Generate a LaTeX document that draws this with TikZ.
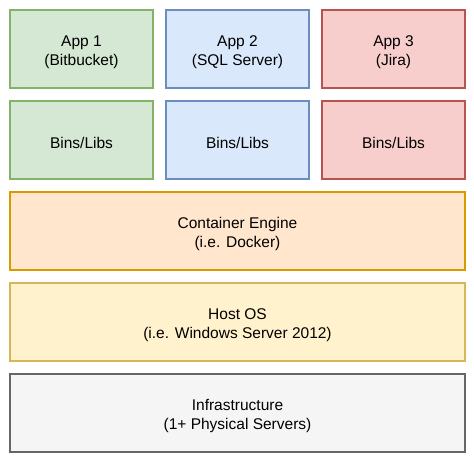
\documentclass[tikz,border=0pt]{standalone}
\usepackage{fontspec}
\setmainfont{Liberation Sans}
\usetikzlibrary{positioning}
\definecolor{greenfill}{HTML}{D5E8D4}
\definecolor{greenline}{HTML}{82B366}
\definecolor{bluefill}{HTML}{DAE8FC}
\definecolor{blueline}{HTML}{6C8EBF}
\definecolor{redfill}{HTML}{F8CECC}
\definecolor{redline}{HTML}{B85450}
\definecolor{orangefill}{HTML}{FFE6CC}
\definecolor{orangeline}{HTML}{D79B00}
\definecolor{yellowfill}{HTML}{FFF2CC}
\definecolor{yellowline}{HTML}{D6B656}
\definecolor{grayfill}{HTML}{F5F5F5}
\definecolor{grayline}{HTML}{666666}
\newcommand{\lift}{\rule{0pt}{17bp}}
\tikzset{%
    layer/.style={%
        draw, line width=1.3bp, inner sep=0pt, outer sep=0pt, align=center,
        minimum width=143bp, minimum height=78bp,
        font=\fontsize{15.5bp}{18.5bp}\selectfont
    },
    widelayer/.style={layer, minimum width=455bp},
    greenbox/.style={layer, fill=greenfill, draw=greenline},
    bluebox/.style={layer, fill=bluefill, draw=blueline},
    redbox/.style={layer, fill=redfill, draw=redline},
}

\begin{document}
\begin{tikzpicture}[node distance=13bp]
    \node [greenbox] (app1) {\lift App 1\\(Bitbucket)};
    \node [bluebox, right=of app1] (app2) {\lift App 2\\(SQL Server)};
    \node [redbox, right=of app2] (app3) {\lift App 3\\(Jira)};
    \node [greenbox, below=of app1] (bins1) {\lift Bins/Libs};
    \node [bluebox, below=of app2] (bins2) {\lift Bins/Libs};
    \node [redbox, below=of app3] (bins3) {\lift Bins/Libs};
    \node [widelayer, fill=orangefill, draw=orangeline, below=of bins2] (engine)
        {\lift Container Engine\\(i.e. Docker)};
    \node [widelayer, fill=yellowfill, draw=yellowline, below=of engine] (hostos)
        {\lift Host OS\\(i.e. Windows Server 2012)};
    \node [widelayer, fill=grayfill, draw=grayline, below=of hostos] (infra)
        {\lift Infrastructure\\(1+ Physical Servers)};
    \useasboundingbox ([shift={(-10bp,10bp)}]app1.north west)
        rectangle ([shift={(9bp,-9bp)}]infra.south east);
\end{tikzpicture}
\end{document}
